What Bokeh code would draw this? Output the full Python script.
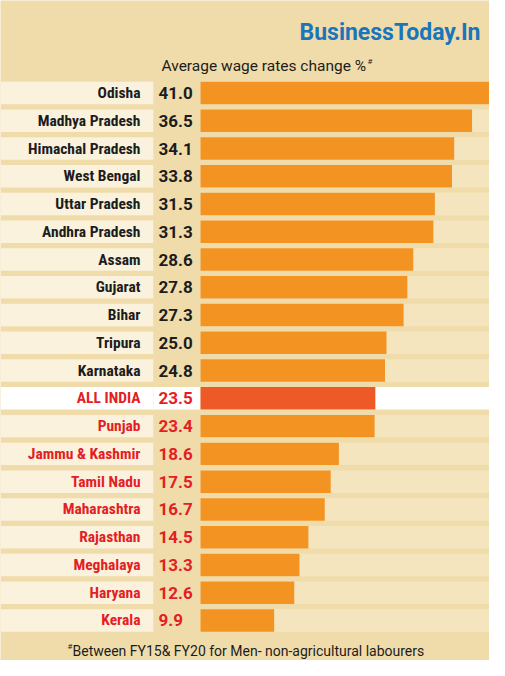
from bokeh.plotting import figure
from bokeh.models import Range1d, ColumnDataSource, Label
from bokeh.embed import file_html
from bokeh.resources import INLINE

# ---- data ----
states = ["Odisha", "Madhya Pradesh", "Himachal Pradesh", "West Bengal", "Uttar Pradesh",
          "Andhra Pradesh", "Assam", "Gujarat", "Bihar", "Tripura", "Karnataka",
          "ALL INDIA", "Punjab", "Jammu & Kashmir", "Tamil Nadu", "Maharashtra",
          "Rajasthan", "Meghalaya", "Haryana", "Kerala"]
values = [41.0, 36.5, 34.1, 33.8, 31.5, 31.3, 28.6, 27.8, 27.3, 25.0, 24.8,
          23.5, 23.4, 18.6, 17.5, 16.7, 14.5, 13.3, 12.6, 9.9]
title_text = "Average wage rates change %"
logo_text = "BusinessToday.In"
footnote_text = "Between FY15& FY20 for Men- non-agricultural labourers"
highlight = "ALL INDIA"
first_red = "ALL INDIA"

# ---- style ----
W, H = 489, 660
BG = "#F0DCAA"
PANEL = "#FBF2DD"
TRACK = "#F4E5BF"
BAR = "#F39322"
BAR_HI = "#EE5A27"
RED = "#E31E24"
INK = "#1C1C1C"
BLUE = "#1B75BB"

PX_PER_UNIT = 7.44      # pixels per % point
ZERO_PX = 200           # screen x of bar origin
ROW_PX = 27.76          # pixels per row
FIRST_ROW_PX = 92.5     # screen y (from top) of first row centre

def px_to_x(px):
    return (px - ZERO_PX) / PX_PER_UNIT

x_lo, x_hi = px_to_x(0), px_to_x(W)
y_top = -FIRST_ROW_PX / ROW_PX
y_bot = y_top + H / ROW_PX

idx = list(range(len(states)))
red_from = states.index(first_red)
src = ColumnDataSource(dict(
    y=idx,
    v=values,
    name=states,
    vtxt=[f"{v:.1f}" for v in values],
    tcol=[INK if i < red_from else RED for i in idx],
    bcol=[BAR_HI if s == highlight else BAR for s in states],
    panel=[("#FFFFFF" if s == highlight else PANEL) for s in states],
    track=[("#FFFFFF" if s == highlight else TRACK) for s in states],
    valbg=[("#FFFFFF" if s == highlight else BG) for s in states],
))

p = figure(width=W, height=H, output_backend="svg", toolbar_location=None,
           x_range=Range1d(x_lo, x_hi), y_range=Range1d(y_bot, y_top),
           min_border=0, outline_line_color=None,
           background_fill_color=BG, border_fill_color=BG)
p.xaxis.visible = False
p.yaxis.visible = False
p.grid.visible = False

hgt = 0.81
# row backgrounds
p.hbar(y="y", left=x_lo, right=px_to_x(153), height=hgt, fill_color="panel", line_color=None, source=src)
p.hbar(y="y", left=px_to_x(153), right=0, height=hgt, fill_color="valbg", line_color=None, source=src)
p.hbar(y="y", left=0, right=x_hi, height=hgt, fill_color="track", line_color=None, source=src)
# bars
p.hbar(y="y", left=0, right="v", height=hgt, fill_color="bcol", line_color=None, source=src)

# labels
p.text(x=0, y="y", text="name", x_offset=-60, text_align="right", text_baseline="middle",
       text_font={"value": "Roboto Condensed"},
       text_font_style="bold", text_font_size="15.5px", text_color="tcol", source=src)
p.text(x=0, y="y", text="vtxt", x_offset=-42, text_align="left", text_baseline="middle",
       text_font={"value": "Roboto"}, text_font_style="bold", text_font_size="17px",
       text_color="tcol", source=src)

# titles
p.add_layout(Label(x=480, y=H - 32, x_units="screen", y_units="screen", text=logo_text,
                   text_align="right", text_baseline="middle", text_font="Roboto",
                   text_font_style="bold", text_font_size="23px", text_color=BLUE))
p.add_layout(Label(x=161, y=H - 65, x_units="screen", y_units="screen", text=title_text,
                   text_align="left", text_baseline="middle", text_font="Roboto",
                   text_font_size="15.5px", text_color=INK))
p.add_layout(Label(x=367, y=H - 61, x_units="screen", y_units="screen", text="#",
                   text_align="left", text_baseline="middle", text_font="Roboto",
                   text_font_size="8px", text_color=INK))
p.add_layout(Label(x=67, y=H - 646, x_units="screen", y_units="screen", text="#",
                   text_align="left", text_baseline="middle", text_font="Roboto",
                   text_font_size="8px", text_color=INK))
p.add_layout(Label(x=72, y=H - 650, x_units="screen", y_units="screen", text=footnote_text,
                   text_align="left", text_baseline="middle", text_font="Roboto",
                   text_font_size="14px", text_color=INK))

open("out.html", "w").write(file_html(p, INLINE))
